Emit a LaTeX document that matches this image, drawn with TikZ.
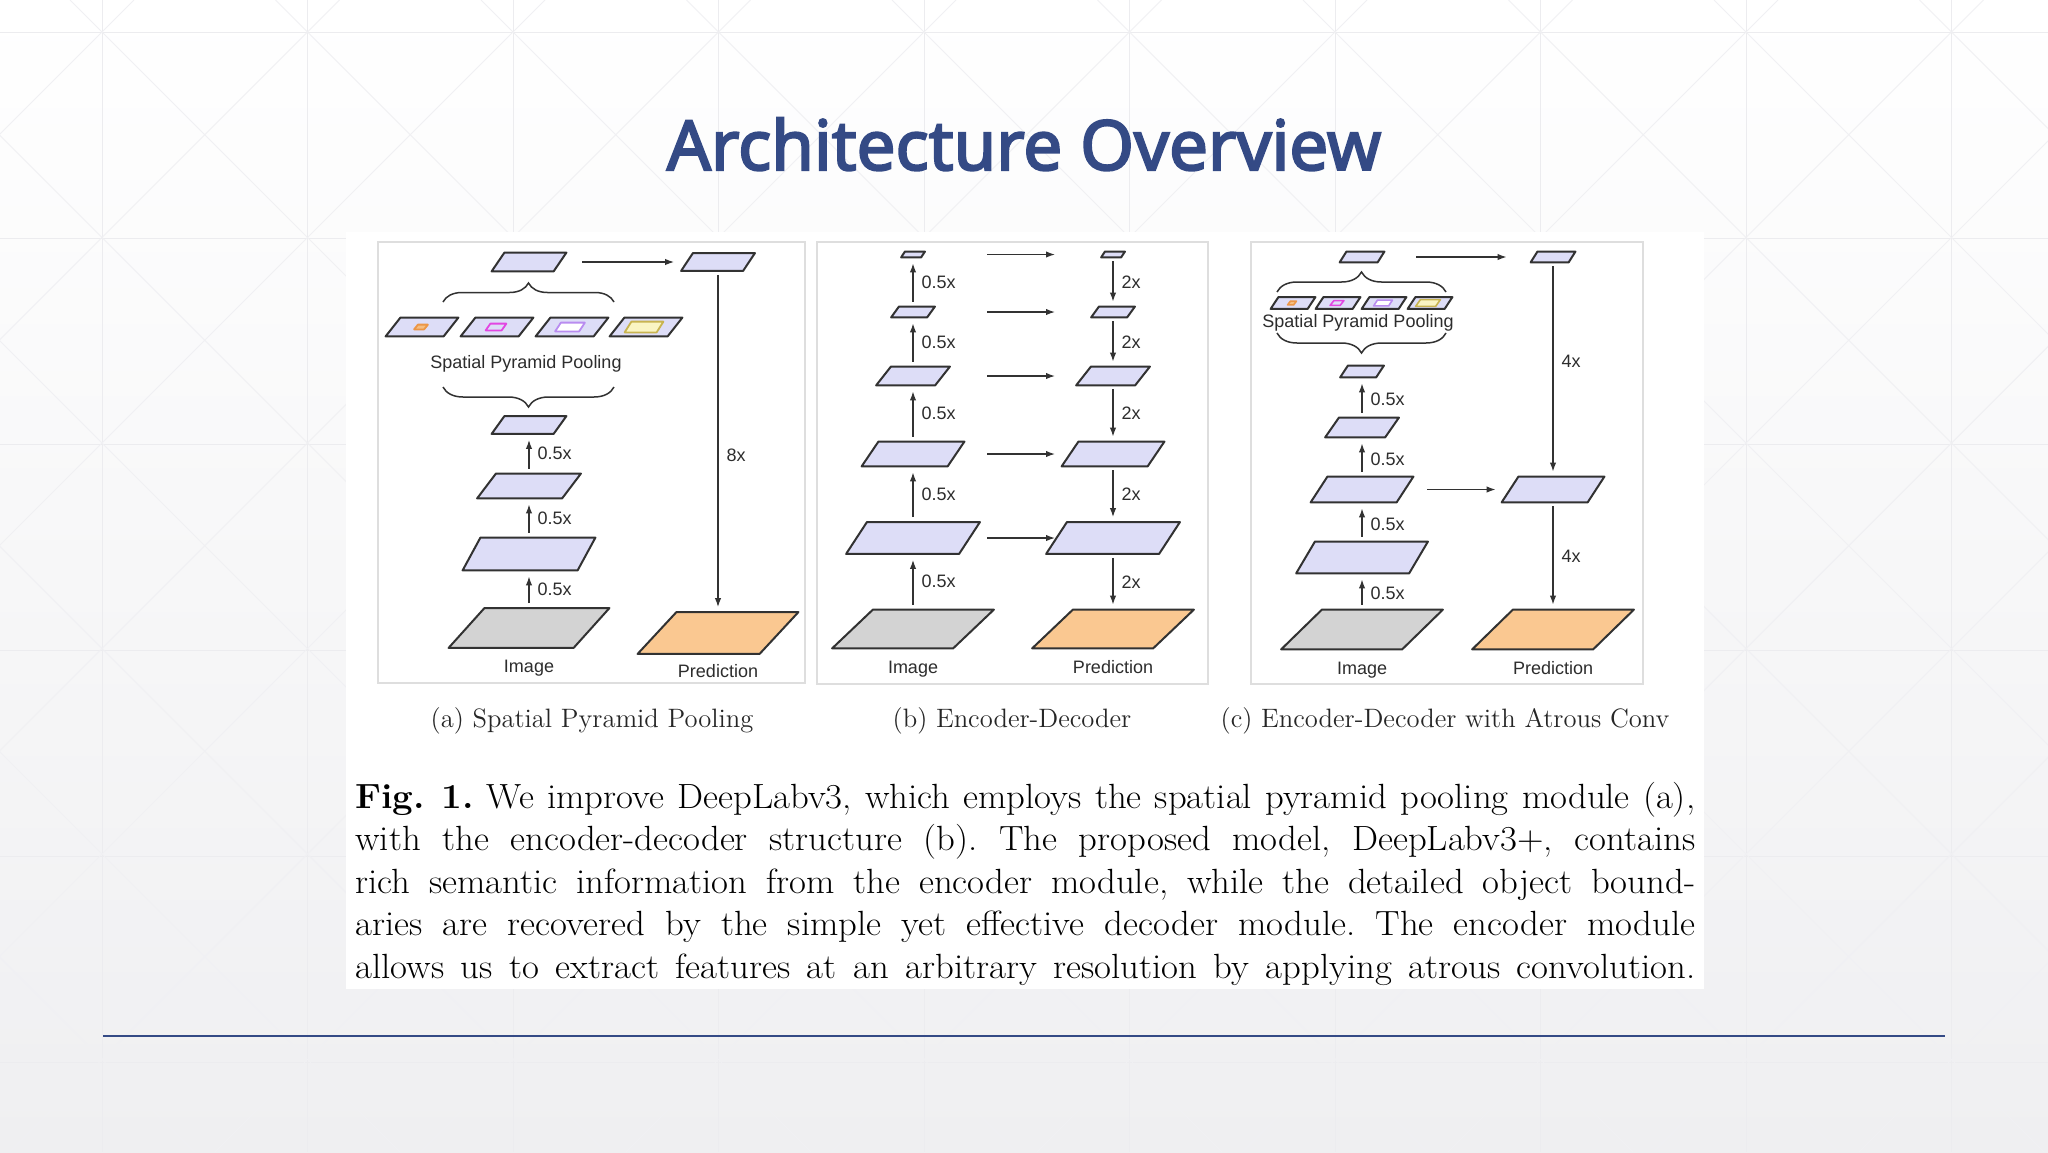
\documentclass[tikz,border=0pt]{standalone}
\usepackage{fontspec}
\usepackage{graphicx}
\usetikzlibrary{arrows.meta, positioning, decorations.pathreplacing}

\newfontfamily\titlefont{Noto Sans}[AutoFakeBold=3]
\newfontfamily\figfont{Liberation Sans}

\definecolor{navy}{RGB}{52,74,133}
\definecolor{edge}{RGB}{50,50,50}
\definecolor{txt}{RGB}{45,45,45}
\definecolor{feat}{RGB}{221,221,247}
\definecolor{imgfill}{RGB}{211,211,211}
\definecolor{predfill}{RGB}{250,200,145}
\definecolor{boxln}{RGB}{222,222,222}
\definecolor{bgbot}{RGB}{239,239,241}
\definecolor{gridln}{RGB}{236,236,239}
\definecolor{diagln}{RGB}{240,240,243}
\definecolor{sppA}{RGB}{236,150,70}
\definecolor{sppAf}{RGB}{245,190,130}
\definecolor{sppB}{RGB}{226,70,226}
\definecolor{sppC}{RGB}{185,140,240}
\definecolor{sppD}{RGB}{200,180,80}
\definecolor{sppDf}{RGB}{250,245,195}

% feature map: [extra style]{name}{cx}{cy}{width}{height}{slant}{fill}
\newcommand{\plane}[8][]{%
  \node[inner sep=0pt, minimum width={(#5+#7)*0.5pt}, minimum height={#6*0.5pt}] (#2) at (#3,#4) {};
  \filldraw[plane, fill=#8, #1] (#2.south west) -- ++(#5,0) -- (#2.north east) -- ++(-#5,0) -- cycle;
}
% one justified caption line
\newcommand{\capline}[1]{\scalebox{1.05}[1]{\makebox[638pt][s]{\frenchspacing #1}}}

\tikzset{
  plane/.style={draw=edge, line width=1pt, line join=round},
  arr/.style={-{Latex[length=4.5pt, width=3.2pt]}, line width=0.65pt, draw=edge},
  up/.style={arr, shorten <=2.5pt, shorten >=3pt},
  dn/.style={arr, shorten <=2pt, shorten >=2.5pt},
  rate/.style={midway, right=3pt, inner sep=1pt, text=txt, font=\figfont\fontsize{9}{10}\selectfont},
  lbl/.style={inner sep=1pt, text=txt, font=\figfont\fontsize{9}{10}\selectfont},
  brc/.style={decorate, decoration={brace, amplitude=#1}, line width=0.75pt, draw=edge},
  panel/.style={draw=boxln, line width=0.6pt, fill=white},
  subcap/.style={anchor=base, inner sep=0pt, text=black!85, font=\fontsize{13.3}{16}\selectfont},
  capl/.style={anchor=base west, inner sep=0pt, text=black, font=\fontsize{17.5}{21}\selectfont},
}

\begin{document}
\begin{tikzpicture}[x=0.5pt, y=-0.5pt]
    \useasboundingbox (0,0) rectangle (2048,1152);

    % Slide background
    \shade[top color=white, bottom color=bgbot] (0,0) rectangle (2048,1152);
    \begin{scope}
        \clip (0,0) rectangle (2048,1152);
        \foreach \k in {0,...,9} \draw[gridln, line width=0.5pt] ({102+205.5*\k},0) -- ++(0,1152);
        \foreach \k in {0,...,5} \draw[gridln, line width=0.5pt] (0,{32+206*\k}) -- ++(2048,0);
        \foreach \k in {-6,...,10} \draw[diagln, line width=0.5pt] ({70+205.5*\k},0) -- ++(1152,1152);
        \foreach \k in {0,...,16} \draw[diagln, line width=0.5pt] ({134+205.5*\k},0) -- ++(-1152,1152);
    \end{scope}

    % Title
    \node[anchor=base, inner sep=0pt, text=navy, font=\titlefont\bfseries\fontsize{34.5}{40}\selectfont] (title) at (1024,170) {Architecture Overview};

    % Paper figure
    \fill[white] (346,232) rectangle (1704,989);
    \draw[panel] (378,242) rectangle (805,683);
    \draw[panel] (817,242) rectangle (1208,684);
    \draw[panel] (1251,242) rectangle (1643,684);

    % (a) Spatial pyramid pooling
    \plane{a-top}{529}{262}{62}{18}{12}{feat}
    \plane{a-out}{718}{262}{62}{17}{11}{feat}
    \foreach \n/\x in {1/422, 2/497, 3/572, 4/646} {\plane{a-s\n}{\x}{327}{58}{18}{14}{feat}}
    \plane[draw=sppA, line width=0.9pt]{a-s1i}{421}{327}{10}{4}{3}{sppAf}
    \plane[draw=sppB, line width=0.9pt]{a-s2i}{496}{327}{16}{6}{4}{feat}
    \plane[draw=sppC, line width=0.9pt]{a-s3i}{570}{327}{24}{8}{5}{white}
    \plane[draw=sppD, line width=0.9pt]{a-s4i}{644}{327}{32}{10}{6}{sppDf}
    \node[lbl] (a-spp) at (526,364) {Spatial Pyramid Pooling};
    \draw[brc=9.5pt] (443,302) -- (614,302);
    \draw[brc=10pt] (614,387) -- (443,387);
    \plane{a-c1}{529}{425}{62}{17}{12}{feat}
    \plane{a-c2}{529}{486}{85}{24}{18}{feat}
    \plane{a-c3}{529}{554}{115}{32}{17}{feat}
    \plane{a-img}{529}{628}{125}{39}{35}{imgfill}
    \plane{a-pred}{718}{633}{122}{41}{38}{predfill}
    \node[lbl, below=5pt of a-img] (a-imgl) {Image};
    \node[lbl, below=4pt of a-pred] (a-predl) {Prediction};

    \draw[up] (a-img) -- (a-c3) node[rate] {0.5x};
    \draw[up] (a-c3) -- (a-c2) node[rate] {0.5x};
    \draw[up] (a-c2) -- (a-c1) node[rate] {0.5x};
    \draw[arr, shorten <=8pt, shorten >=3.5pt] (a-top) -- (a-out);
    \draw[dn] (a-out) -- (a-pred) node[rate, pos=0.54] {8x};

    % (b) Encoder-decoder
    \foreach \n/\y/\w/\h/\s in {1/254.5/20/5/3, 2/312/36/10/7, 3/376/59/18/14, 4/454/86/24/16, 5/538/113/31/20} {
        \plane{b-e\n}{913}{\y}{\w}{\h}{\s}{feat}
        \plane{b-d\n}{1113}{\y}{\w}{\h}{\s}{feat}
    }
    \plane{b-img}{913}{629}{121}{38}{40}{imgfill}
    \plane{b-pred}{1113}{629}{121}{38}{40}{predfill}
    \node[lbl, below=5pt of b-img] (b-imgl) {Image};
    \node[lbl, below=5pt of b-pred] (b-predl) {Prediction};

    \draw[up] (b-img) -- (b-e5) node[rate] {0.5x};
    \foreach \a/\b in {5/4, 4/3, 3/2, 2/1} \draw[up] (b-e\a) -- (b-e\b) node[rate] {0.5x};
    \foreach \a/\b in {1/2, 2/3, 3/4, 4/5} \draw[dn] (b-d\a) -- (b-d\b) node[rate] {2x};
    \draw[dn] (b-d5) -- (b-pred) node[rate] {2x};
    \coordinate (b-l) at (987,0);
    \coordinate (b-r) at (1055,0);
    \foreach \n in {1,...,5} \draw[arr] (b-e\n -| b-l) -- (b-e\n -| b-r);

    % (c) Encoder-decoder with atrous conv
    \plane{c-top}{1362}{257}{38}{10}{6}{feat}
    \plane{c-out}{1553}{257}{38}{10}{6}{feat}
    \foreach \n/\x in {1/1293, 2/1338, 3/1384, 4/1430} {\plane{c-s\n}{\x}{303}{37}{11}{7}{feat}}
    \plane[draw=sppA, line width=0.8pt]{c-s1i}{1292}{303}{6}{3}{2}{sppAf}
    \plane[draw=sppB, line width=0.8pt]{c-s2i}{1337}{303}{10}{4}{3}{feat}
    \plane[draw=sppC, line width=0.8pt]{c-s3i}{1383}{303}{15}{5}{3}{white}
    \plane[draw=sppD, line width=0.8pt]{c-s4i}{1428}{303}{20}{6}{4}{sppDf}
    \node[lbl] (c-spp) at (1358,323) {Spatial Pyramid Pooling};
    \draw[brc=10pt] (1277,292) -- (1446,292);
    \draw[brc=10pt] (1446,333) -- (1277,333);
    \plane{c-c1}{1362}{371.5}{36}{11}{7}{feat}
    \plane{c-c2}{1362}{427.5}{60}{19}{13}{feat}
    \plane{c-c3}{1362}{489.5}{86}{25}{16}{feat}
    \plane{c-c4}{1362}{557.5}{113}{31}{18}{feat}
    \plane{c-img}{1362}{629.5}{121}{39}{40}{imgfill}
    \plane{c-mid}{1553}{489.5}{86}{25}{16}{feat}
    \plane{c-pred}{1553}{629.5}{121}{39}{40}{predfill}
    \node[lbl, below=5pt of c-img] (c-imgl) {Image};
    \node[lbl, below=5pt of c-pred] (c-predl) {Prediction};

    \draw[up] (c-img) -- (c-c4) node[rate, pos=0.45] {0.5x};
    \draw[up] (c-c4) -- (c-c3) node[rate, pos=0.45] {0.5x};
    \draw[up] (c-c3) -- (c-c2) node[rate, pos=0.45] {0.5x};
    \draw[up] (c-c2) -- (c-c1) node[rate, pos=0.45] {0.5x};
    \draw[arr, shorten <=16pt, shorten >=12pt] (c-top) -- (c-out);
    \draw[dn] (c-out) -- (c-mid) node[rate, pos=0.46] {4x};
    \draw[arr, shorten <=7pt, shorten >=3pt] (c-c3) -- (c-mid);
    \draw[dn] (c-mid) -- (c-pred) node[rate] {4x};

    % Sub-captions
    \node[subcap] (capa) at (592,727) {(a) Spatial Pyramid Pooling};
    \node[subcap] (capb) at (1012,727) {(b) Encoder-Decoder};
    \node[subcap] (capc) at (1445,727) {(c) Encoder-Decoder with Atrous Conv};

    % Figure caption
    \node[capl] (cap1) at (355,808) {\capline{\textbf{Fig.~1.} We improve DeepLabv3, which employs the spatial pyramid pooling module (a),}};
    \node[capl] (cap2) at (355,850.5) {\capline{with the encoder-decoder structure (b). The proposed model, DeepLabv3+, contains}};
    \node[capl] (cap3) at (355,893) {\capline{rich semantic information from the encoder module, while the detailed object bound-}};
    \node[capl] (cap4) at (355,935.5) {\capline{aries are recovered by the simple yet effective decoder module. The encoder module}};
    \node[capl] (cap5) at (355,978) {\capline{allows us to extract features at an arbitrary resolution by applying atrous convolution.}};

    % Footer rule
    \draw[navy, line width=1pt] (103,1036) -- (1945,1036);
\end{tikzpicture}
\end{document}
